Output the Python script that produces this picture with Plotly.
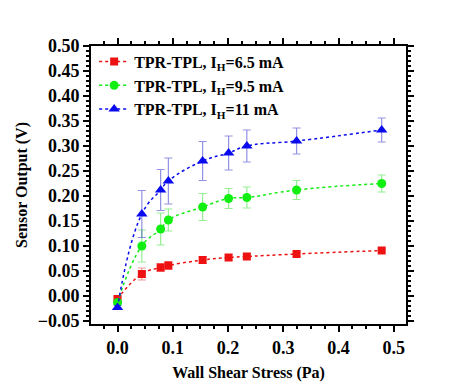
import plotly.graph_objects as go

shear_stress = [0.0, 0.044, 0.078, 0.092, 0.154, 0.201, 0.234, 0.324, 0.478]

out_65 = [-0.006, 0.044, 0.057, 0.061, 0.072, 0.077, 0.079, 0.084, 0.091]
err_65 = [0.004, 0.012, 0.008, 0.008, 0.007, 0.006, 0.006, 0.005, 0.003]

out_95 = [-0.013, 0.100, 0.134, 0.152, 0.178, 0.195, 0.197, 0.212, 0.225]
err_95 = [0.004, 0.032, 0.032, 0.022, 0.027, 0.020, 0.021, 0.019, 0.017]

out_11 = [-0.023, 0.164, 0.212, 0.230, 0.270, 0.286, 0.300, 0.310, 0.332]
err_11 = [0.004, 0.047, 0.041, 0.046, 0.039, 0.034, 0.032, 0.026, 0.024]

names = ["TPR-TPL, I<sub>H</sub>=6.5 mA", "TPR-TPL, I<sub>H</sub>=9.5 mA", "TPR-TPL, I<sub>H</sub>=11 mA"]

FONT = "Liberation Serif"

fig = go.Figure()
series = [
    (out_65, err_65, "#ee1111", "rgba(238,17,17,0.45)", "square", 8),
    (out_95, err_95, "#11ee11", "rgba(17,220,17,0.45)", "circle", 9),
    (out_11, err_11, "#0a0aee", "rgba(10,10,200,0.45)", "triangle-up", 10),
]
for (y, e, c, ec, sym, sz), nm in zip(series, names):
    fig.add_trace(go.Scatter(
        x=shear_stress, y=y, name=nm, mode="lines+markers",
        line=dict(color=c, width=1.5, dash="dot", shape="spline", smoothing=1.3),
        marker=dict(symbol=sym, size=sz, color=c),
        error_y=dict(type="data", array=e, visible=True, color=ec, thickness=1.2, width=4),
    ))

axis_common = dict(
    showline=True, linecolor="black", linewidth=2, mirror="allticks",
    ticks="outside", ticklen=6, tickwidth=2, tickcolor="black",
    showgrid=False, zeroline=False,
    tickfont=dict(family=FONT, size=18, color="black", weight="bold"),
)

fig.update_xaxes(
    range=[-0.048, 0.522], dtick=0.1, tick0=0, tickformat=".1f",
    minor=dict(dtick=0.025, tick0=0, ticks="outside", ticklen=3, tickwidth=1.5, tickcolor="black"),
    title=dict(text="<b>Wall Shear Stress (Pa)</b>", font=dict(family=FONT, size=16, color="black"), standoff=10),
    **axis_common,
)
fig.update_yaxes(
    range=[-0.056, 0.5], dtick=0.05, tick0=0, tickformat=".2f",
    minor=dict(dtick=0.01, tick0=0, ticks="outside", ticklen=3, tickwidth=1.5, tickcolor="black"),
    title=dict(text="<b>Sensor Output (V)</b>", font=dict(family=FONT, size=16, color="black"), standoff=6),
    **axis_common,
)

fig.update_layout(
    width=474, height=390,
    margin=dict(l=78, r=76, t=38, b=74),
    paper_bgcolor="white", plot_bgcolor="white",
    legend=dict(
        x=0.01, y=1.005, xanchor="left", yanchor="top",
        bgcolor="rgba(0,0,0,0)",
        font=dict(family=FONT, size=16, color="black", weight="bold"),
        itemwidth=30, tracegroupgap=0,
    ),
)

fig.write_html("out.html")
